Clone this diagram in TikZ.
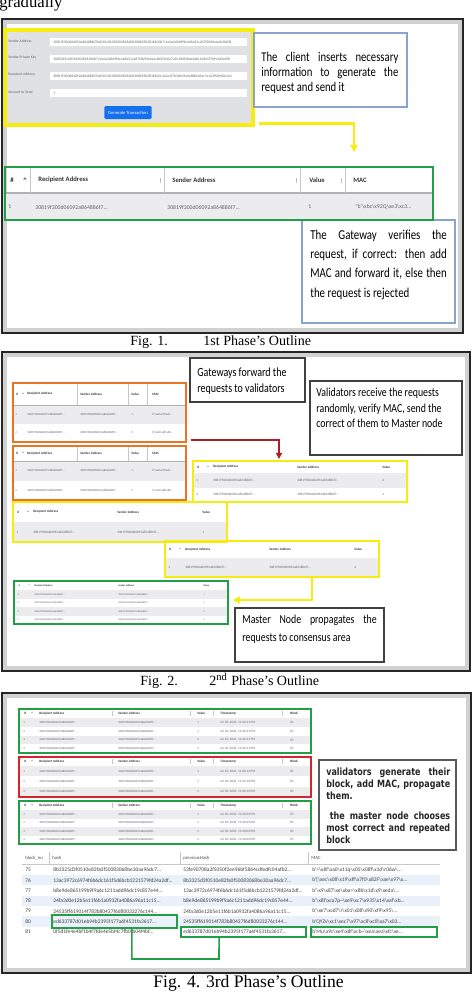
\documentclass[tikz,border=0pt]{standalone}
\usepackage{fontspec}
\setmainfont{Liberation Serif}
\newfontfamily\uifont{Carlito}
\newfontfamily\notefont{Carlito}[FakeStretch=0.8]
\newfontfamily\boldnote{DejaVu Sans}[FakeStretch=0.8]
\usetikzlibrary{fit,arrows.meta}

\definecolor{yel}{RGB}{246,236,16}
\definecolor{grn}{RGB}{36,158,70}
\definecolor{org}{RGB}{232,116,40}
\definecolor{rd}{RGB}{214,36,44}
\definecolor{darkrd}{RGB}{176,30,38}
\definecolor{btn}{RGB}{22,112,238}
\definecolor{notebl}{RGB}{136,164,204}
\definecolor{formbg}{RGB}{224,225,228}
\definecolor{rowbg}{RGB}{236,236,238}
\definecolor{blrow}{RGB}{234,241,250}

\newcommand{\bsl}{\textbackslash}
\newcommand{\pkaddr}{30819f300d06092a864886f7...}

\begin{document}
\begin{tikzpicture}[x=0.02cm, y=-0.02cm,
  panel/.style={draw=black!85, line width=1.8pt, fill=white, inner sep=0pt},
  tframe/.style={draw=#1, line width=1.5pt, inner sep=0pt},
  notebox/.style={draw=#1, line width=0.6pt, fill=white, inner sep=0pt},
  hcell/.style={font=\uifont\bfseries\fontsize{#1}{#1}\selectfont, anchor=west, inner sep=0pt, text=black!80},
  dcell/.style={font=\uifont\fontsize{#1}{#1}\selectfont, anchor=west, inner sep=0pt, text=black!60},
  hrule/.style={draw=black!22, line width=0.4pt},
  yarrow/.style={draw=yel, line width=1.3pt, -{Triangle[length=4pt,width=4pt]}},
  rarrow/.style={draw=darkrd, line width=1.2pt, -{Triangle[length=3.5pt,width=3.5pt]}},
  glink/.style={draw=grn, line width=0.9pt},
  figcap/.style={anchor=base west, inner sep=0pt, font=\fontsize{8}{9}\selectfont}]

\useasboundingbox (0,0) rectangle (474,992);
\clip (0,0) rectangle (474,992);

\node[anchor=base west, inner sep=0pt, font=\fontsize{9.5}{10}\selectfont] (grad) at (-1,7.5) {gradually};

% Fig. 1
\node[panel, fit={(3,20) (462,332)}] (P1) {};
\draw[black!18, line width=1.8pt] ([shift={(2pt,-2pt)}]P1.north west) rectangle ([shift={(-2pt,2pt)}]P1.south east);

\fill[formbg] (5,30) rectangle (253,125);
\foreach \y/\lab/\val in {42/Sender Address/30819f300d06092a864886f70d010101050003818d0030818902818100b7c1e0a2d3b9f6c4e8a51c2d7f3b90e6a4c8d2f1,
    59/Sender Private Key/3082025c02010002818100b7c1e0a2d3b9f6c4e8a51c2d7f3b90e6a4c8d2f1b5e7a9c3d0f2b4e6a8c1d3e5f7b9c2d4e6f8,
    76/Recipient Address/30819f300d06092a864886f70d010101050003818d0030818902818100c4a2e1f7b3d5c9e0a8f6b2d4c7e1a3f5b9d0c2e4,
    93/Amount to Send/1} {
  \fill[white] (50,\y-4) rectangle (247,\y+4);
  \node[dcell=2.1] (lab\y) at (8,\y-1) {\lab};
  \node[dcell=2.1] (fld\y) at (53,\y) {\val};
}
\node[tframe=yel, line width=1.8pt, fit={(5,30) (253,125)}] (form) {};
\node[fill=btn, text=white, rounded corners=0.8pt, minimum width=27pt, minimum height=7.4pt, inner sep=0pt,
  font=\uifont\fontsize{2.6}{3}\selectfont] (gen) at (128,112.5) {Generate Transaction};

\node[notebox=notebl, fit={(254,33) (407,107)}] (clientbox) {};
\node[anchor=north west, inner sep=0pt, text width=78pt, align=justify, font=\notefont\fontsize{7.6}{8.6}\selectfont]
  (client) at (261,51.5) {The client inserts necessary\linebreak information to generate the\linebreak request and send it};

\coordinate (ya1) at (354,152);
\draw[yarrow] ([xshift=2.5pt,yshift=1.7pt]form.south east) -| (ya1);

\fill[rowbg] (5,193) rectangle (433,220);
\draw[black!30, line width=0.8pt] (5,193) -- (433,193);
\foreach \x in {30,164,300,345} \draw[hrule] (\x,168) -- (\x,193);
\foreach \x in {160,296,341} \draw[black!25, line width=0.5pt] (\x,178) -- (\x,183);
\foreach \x/\txt [count=\k] in {10/\#, 23/\textasciicircum, 38/Recipient Address, 172/Sender Address, 309/Value, 353/MAC}
  \node[hcell=3.8] (g1h\k) at (\x,180) {\txt};
\foreach \x/\txt [count=\k] in {8/1, 35/\pkaddr, 167/\pkaddr, 308/1, 355/{"b'\bsl xbc\bsl x92Q\bsl xe3\bsl xc3...}}
  \node[dcell=3.3] (g1r\k) at (\x,207) {\txt};

\node[notebox=notebl, fit={(302,220) (455,323)}] (gwbox) {};
\node[tframe=grn, fit={(5,167) (433,220)}] (G1) {};
\node[anchor=north west, inner sep=0pt, text width=77.7pt, align=justify, font=\notefont\fontsize{7.75}{11}\selectfont]
  (gw) at (310,229.5) {The Gateway verifies the\linebreak request, if correct: then add\linebreak MAC and forward it, else then\linebreak the request is rejected};

\node[figcap] (cap1a) at (130,345.5) {Fig. 1.};
\node[figcap] (cap1b) at (203,345.5) {1st Phase's Outline};

% Fig. 2
\node[panel, fit={(3,353) (469,670)}] (P2) {};
\draw[black!18, line width=1.8pt] ([shift={(2pt,-2pt)}]P2.north west) rectangle ([shift={(-2pt,2pt)}]P2.south east);

\node[notebox=black!75, fit={(190,358) (305,402)}] (fwbox) {};
\node[anchor=north west, inner sep=0pt, align=left, font=\notefont\fontsize{7.1}{9.6}\selectfont]
  (fw) at (197,367) {Gateways forward the\\ requests to validators};

\node[notebox=black!75, fit={(310,381) (462,455)}] (valbox) {};
\node[anchor=north west, inner sep=0pt, align=left, font=\notefont\fontsize{7}{8.8}\selectfont]
  (val) at (316,388) {Validators receive the requests\\ randomly, verify MAC, send the\\ correct of them to Master node};

\foreach \tn/\ytop/\yhb/\ybot in {o1/383/405/442, o2/446/461/500} {
  \pgfmathsetmacro\rh{(\ybot-\yhb)/2}
  \pgfmathsetmacro\hy{(\ytop+\yhb)/2}
  \fill[rowbg] (13,\yhb) rectangle (186,\yhb+\rh);
  \draw[black!30, line width=0.5pt] (13,\yhb) -- (186,\yhb);
  \foreach \x in {77,128,147} \draw[hrule] (\x,\ytop) -- (\x,\yhb);
  \foreach \x/\txt [count=\k] in {16/\#, 22/\textasciicircum, 27/Recipient Address, 80/Sender Address, 131/Value, 152/MAC}
    \node[hcell=1.9] (\tn-h\k) at (\x,\hy) {\txt};
  \foreach \ri/\mac in {1/{b'\bsl xa0\bsl x9f\bsl xd4...}, 2/{b'\bsl xb4\bsl xa8\bsl x82...}} {
    \pgfmathsetmacro\ry{\yhb+(\ri-0.5)*\rh}
    \node[dcell=1.7] (\tn-\ri-n) at (15,\ry) {\ri};
    \node[dcell=1.7] (\tn-\ri-a) at (27,\ry) {\pkaddr};
    \node[dcell=1.7] (\tn-\ri-b) at (80,\ry) {\pkaddr};
    \node[dcell=1.7] (\tn-\ri-v) at (131,\ry) {\ri};
    \node[dcell=1.7] (\tn-\ri-m) at (152,\ry) {\mac};
  }
  \node[tframe=org, line width=1.3pt, fit={(13,\ytop) (186,\ybot)}] (\tn) {};
}

\foreach \tn/\lx/\ytop/\yhb/\ybot/\nr/\vals/\fs/\col in {v1/193/461/473/502/2/{2,1}/1.9/yel,
    v2/13/502/522/542/1/{1}/1.9/yel, v3/165/541/558/577/1/{2}/1.9/yel, gm/14/581/590/624/4/{1,1,2,2}/1.4/grn} {
  \pgfmathsetmacro\rh{(\ybot-\yhb)/\nr}
  \pgfmathsetmacro\hy{(\ytop+\yhb)/2}
  \pgfmathsetmacro\rx{\lx+214}
  \draw[black!30, line width=0.5pt] (\lx,\yhb) -- (\rx,\yhb);
  \foreach \x/\txt [count=\k] in {4/\#, 14/\textasciicircum, 20/Recipient Address, 104/Sender Address, 189/Value}
    \node[hcell=\fs] (\tn-h\k) at (\lx+\x,\hy) {\txt};
  \foreach \val [count=\ri] in \vals {
    \pgfmathsetmacro\ry{\yhb+(\ri-0.5)*\rh}
    \pgfmathtruncatemacro\odd{mod(\ri,2)}
    \ifnum\odd=1 \fill[rowbg] (\lx,\ry-\rh/2) rectangle (\rx,\ry+\rh/2); \fi
    \node[dcell=\fs] (\tn-\ri-n) at (\lx+3,\ry) {\ri};
    \node[dcell=\fs] (\tn-\ri-a) at (\lx+20,\ry) {\pkaddr};
    \node[dcell=\fs] (\tn-\ri-b) at (\lx+104,\ry) {\pkaddr};
    \node[dcell=\fs] (\tn-\ri-v) at (\lx+189,\ry) {\val};
  }
  \node[tframe=\col, line width=1.3pt, fit={(\lx,\ytop) (\rx,\ybot)}] (\tn) {};
}

\coordinate (ra) at (279,459);
\draw[rarrow] ([xshift=2pt,yshift=1.7pt]o1.south east) -| (ra);
\coordinate (ya2) at (233,600);
\draw[yarrow] ([xshift=22.7pt]v3.south) |- (ya2);

\node[notebox=black!75, fit={(235,608) (384,662)}] (mbox) {};
\node[anchor=north west, inner sep=0pt, text width=76.5pt, align=justify, font=\notefont\fontsize{7}{10.2}\selectfont]
  (master) at (242,615) {Master Node propagates the\linebreak requests to consensus area};

\node[figcap] (cap2a) at (140,685.5) {Fig. 2.};
\node[figcap] (cap2b) at (209,685.5) {2\textsuperscript{nd} Phase's Outline};

% Fig. 4
\node[panel, fit={(3,694) (470,972)}] (P3) {};
\draw[black!18, line width=1.8pt] ([shift={(2pt,-2pt)}]P3.north west) rectangle ([shift={(-2pt,2pt)}]P3.south east);

\foreach \tn/\ytop/\col/\ts/\nr/\rh in {ga/709/grn/{Jul 18, 2023, 11:20:21 PM}/4/8.75,
    rr/757/rd/{Jul 18, 2023, 11:20:12 PM}/3/10.3, gb/801/grn/{Jul 18, 2023, 11:20:02 PM}/4/8.5} {
  \pgfmathsetmacro\yhb{\ytop+9}
  \pgfmathsetmacro\ybot{\yhb+\nr*\rh}
  \draw[black!30, line width=0.5pt] (19,\yhb) -- (311,\yhb);
  \foreach \x in {112,190,213,282} \draw[hrule] (\x,\ytop+2) -- (\x,\yhb-2);
  \foreach \x/\txt [count=\k] in {24/\#, 31/\textasciicircum, 39/Recipient Address, 118/Sender Address, 197/Value, 220/Timestamp, 290/Block}
    \node[hcell=1.9] (\tn-h\k) at (\x,\ytop+4.5) {\txt};
  \foreach \ri in {1,...,\nr} {
    \pgfmathsetmacro\ry{\yhb+(\ri-0.5)*\rh}
    \pgfmathtruncatemacro\odd{mod(\ri,2)}
    \pgfmathtruncatemacro\val{\ri<3 ? 1 : 2}
    \ifnum\odd=1 \fill[rowbg] (19,\ry-\rh/2) rectangle (311,\ry+\rh/2); \fi
    \node[dcell=1.7] (\tn-\ri-n) at (23,\ry) {\ri};
    \node[dcell=1.7] (\tn-\ri-a) at (39,\ry) {\pkaddr};
    \node[dcell=1.7] (\tn-\ri-b) at (118,\ry) {\pkaddr};
    \node[dcell=1.7] (\tn-\ri-v) at (197,\ry) {\val};
    \node[dcell=1.9] (\tn-\ri-t) at (220,\ry) {\ts};
    \node[dcell=1.9] (\tn-\ri-k) at (290,\ry) {81};
  }
  \node[tframe=\col, fit={(19,\ytop) (311,\ybot)}] (\tn) {};
}

\node[notebox=black!65, line width=0.9pt, fit={(319,760) (456,850)}] (mnbox) {};
\node[anchor=north west, inner sep=0pt, text width=70.5pt, align=justify, text=black!85,
  font=\boldnote\bfseries\fontsize{5.7}{6.8}\selectfont] (mn) at (326,768)
  {validators generate their\linebreak block, add MAC, propagate\linebreak them.\par\vspace{4.5pt}\hspace*{2pt}the master node chooses\linebreak most correct and repeated\linebreak block};

\foreach \x/\txt [count=\k] in {25/block\_nu, 52/hash, 183/previousHash, 311/MAC}
  \node[dcell=2.7, text=black!70] (bh\k) at (\x,858) {\txt};
\draw[hrule] (22,864) -- (440,864);
\foreach \x in {49,180,308} \draw[hrule] (\x,852) -- (\x,864);
\foreach \n/\h/\p/\mac [count=\ri] in {
    75/{8b3325d3f0510e82fa0f50083068be30aa96dc7...}/{53fe90708a2f5050f2ee96bf5864cdfedfc04afb2...}/{b'>\bsl x8f\bsl xa0\bsl x11q\bsl x05\bsl x08f\bsl x1d\bsl r06w\bsl ...},
    76/{13ac3972c6974f6b6dc161f5d6bcb1221579fd24a2df...}/{8b3325d3f0510e82fa0f50083068be30aa96dc7...}/{b'[\bsl xec\bsl x08\bsl x19\bsl xff\bsl x7f0\bsl x82F\bsl xae\bsl x97\bsl x...},
    77/{b8e9de865199b9f9a6c1211add96dc19c857e44...}/{13ac3972c6974f6b6dc161f5d6bcb1221579fd24a2df...}/{b'\bsl x9\bsl x87\bsl xe\bsl xba>\bsl x8b\bsl x1d\bsl x9\bsl xeda\bsl ...},
    78/{24fa3d0e12b5e11f6b1a0932fa4086a96a11c15...}/{b8e9de865199b9f9a6c1211add96dc19c857e44...}/{b'\bsl x8f\bsl xca7p\textasciitilde\bsl xe9\bsl xc7\bsl x935\bsl x14\bsl xaf\bsl xb...},
    79/{24535ff619014f783b80437f6d80033276c144...}/{24fa3d0e12b5e11f6b1a0932fa4086a96a11c15...}/{b'\bsl xe7\bsl xcd7\bsl r\bsl x01\bsl x08\bsl x90\bsl xf9\bsl x95\bsl ...},
    80/{ed633787d01eb94b2395f177a6f4531fa3617...}/{24535ff619014f783b80437f6d80033276c144...}/{b'QYZv\bsl xc1\bsl xec7\bsl x97\bsl xc8\bsl xc8\bsl xa7\bsl x03...},
    81/{0f5d1fe4e4bf1b4f7fde4e5bf4c7fb0fb04f4bf...}/{ed633787d01eb94b2395f177a6f4531fa3617...}/{b'Mu\bsl x9c\bsl xe4\bsl xdf\bsl xcb\textasciitilde\bsl xea\bsl xea\bsl xfc\bsl xe...}} {
  \pgfmathsetmacro\ry{870+(\ri-1)*10.3}
  \pgfmathtruncatemacro\odd{mod(\ri,2)}
  \ifnum\odd=0 \fill[blrow] (22,\ry-5.15) rectangle (440,\ry+5.15); \fi
  \node[dcell=3.1, text=black!75] (b\n-n) at (25,\ry) {\n};
  \node[dcell=3.1, text=black!75] (b\n-h) at (53,\ry) {\h};
  \node[dcell=3.1, text=black!75] (b\n-p) at (183,\ry) {\p};
  \node[dcell=3.1, text=black!75] (b\n-m) at (312,\ry) {\mac};
}
\node[tframe=grn, line width=1.3pt, fit={(52,915) (177,928)}] (hl1) {};
\node[tframe=grn, line width=1.3pt, fit={(181,927) (306,937)}] (hl2) {};
\node[tframe=grn, line width=1.3pt, fit={(311,927) (437,937)}] (hl3) {};
\coordinate (hop) at (219,959);
\draw[glink] ([xshift=9.9pt]hl1.south) |- (hop) -- ([xshift=-13.9pt]hl2.south);

\node[figcap, font=\fontsize{10}{11}\selectfont] (cap3) at (153,987) {Fig. 4. 3rd Phase's Outline};
\end{tikzpicture}
\end{document}
